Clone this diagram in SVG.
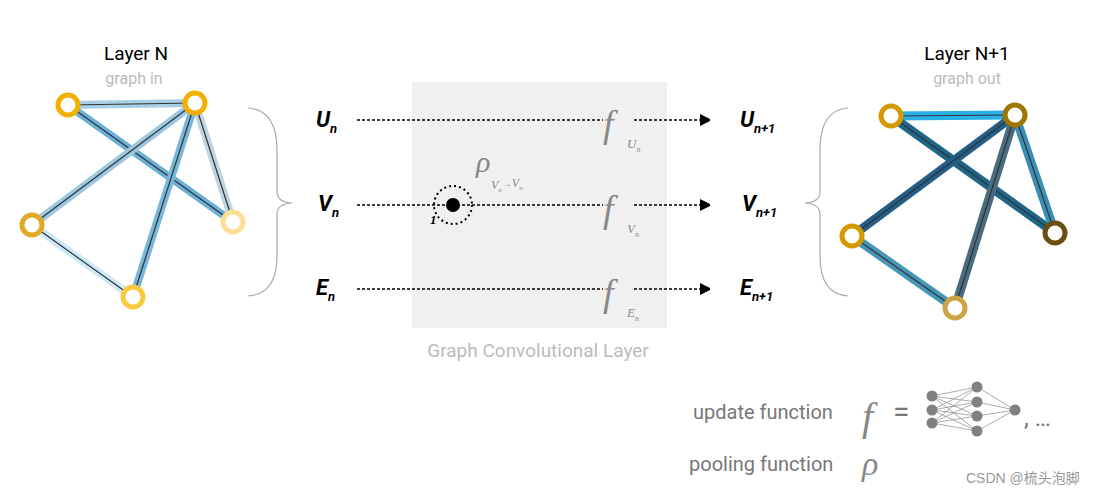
<svg xmlns="http://www.w3.org/2000/svg" width="1116" height="496" viewBox="0 0 1116 496">
<style>
.t{font-family:Roboto,"Liberation Sans",sans-serif}
.lab{font-family:Roboto,"Liberation Sans",sans-serif;font-weight:bold;font-style:italic;font-size:22px;fill:#000}
.sub{font-size:13px}
.m{font-family:"Liberation Serif",serif;font-style:italic;fill:#888}
.dot{stroke:#000;stroke-width:1.3;stroke-dasharray:3 2;fill:none}
.thin{stroke:#333;stroke-width:1.2}
.nd{fill:#fff;stroke-width:5}
.nn{stroke:#888;stroke-width:0.7}
</style>
<defs>
<marker id="ar" markerWidth="10" markerHeight="12" refX="0" refY="6" orient="auto" markerUnits="userSpaceOnUse"><path d="M0,0L12,6L0,12z" fill="#000"/></marker>
</defs>
<rect x="412" y="82" width="255" height="246" fill="#f0f0f0"/>
<g id="connectors">
<g id="left-edges" stroke-linecap="butt">
<line x1="68" y1="105" x2="195" y2="103" stroke="#a9cfe6" stroke-width="8"/><line x1="68" y1="105" x2="195" y2="103" class="thin"/>
<line x1="68" y1="105" x2="233" y2="222" stroke="#6aafd8" stroke-width="8"/><line x1="68" y1="105" x2="233" y2="222" class="thin"/>
<line x1="195" y1="103" x2="32" y2="225" stroke="#9cc7e2" stroke-width="8"/><line x1="195" y1="103" x2="32" y2="225" class="thin"/>
<line x1="195" y1="103" x2="233" y2="222" stroke="#bed4e0" stroke-width="8"/><line x1="195" y1="103" x2="233" y2="222" class="thin"/>
<line x1="195" y1="103" x2="133" y2="297" stroke="#78b6dc" stroke-width="8"/><line x1="195" y1="103" x2="133" y2="297" class="thin"/>
<line x1="32" y1="225" x2="133" y2="297" stroke="#cde8f6" stroke-width="8"/><line x1="32" y1="225" x2="133" y2="297" class="thin"/>
</g>
<g id="right-edges">
<line x1="891" y1="116" x2="1015" y2="115" stroke="#29afe6" stroke-width="9"/><line x1="891" y1="116" x2="1015" y2="115" class="thin"/>
<line x1="891" y1="116" x2="1055" y2="233" stroke="#1d6688" stroke-width="9"/><line x1="891" y1="116" x2="1055" y2="233" class="thin"/>
<line x1="1015" y1="115" x2="852" y2="236" stroke="#235d88" stroke-width="9"/><line x1="1015" y1="115" x2="852" y2="236" class="thin"/>
<line x1="1015" y1="115" x2="1055" y2="233" stroke="#3a8fb4" stroke-width="9"/><line x1="1015" y1="115" x2="1055" y2="233" class="thin"/>
<line x1="1015" y1="115" x2="955" y2="308" stroke="#4a6c80" stroke-width="9"/><line x1="1015" y1="115" x2="955" y2="308" class="thin"/>
<line x1="852" y1="236" x2="955" y2="308" stroke="#4596b8" stroke-width="9"/><line x1="852" y1="236" x2="955" y2="308" class="thin"/>
</g>
<line x1="357" y1="120" x2="603" y2="120" class="dot"/><line x1="634" y1="120" x2="700" y2="120" class="dot" marker-end="url(#ar)"/>
<line x1="357" y1="205" x2="603" y2="205" class="dot"/><line x1="634" y1="205" x2="700" y2="205" class="dot" marker-end="url(#ar)"/>
<line x1="357" y1="289" x2="603" y2="289" class="dot"/><line x1="634" y1="289" x2="700" y2="289" class="dot" marker-end="url(#ar)"/>
<path d="M248,108 Q277,110 277,150 L277,192 Q277,202 292,203 Q277,204 277,214 L277,256 Q277,294 248,296" fill="none" stroke="#aaa" stroke-width="1.2"/>
<path d="M848,108 Q820,110 820,150 L820,192 Q820,202 805,203 Q820,204 820,214 L820,256 Q820,294 848,296" fill="none" stroke="#aaa" stroke-width="1.2"/>
</g>
<g id="left-nodes">
<circle id="nA" cx="68" cy="105" r="10" class="nd" stroke="#f2b100"/>
<circle id="nB" cx="195" cy="103" r="10" class="nd" stroke="#f2b100"/>
<circle id="nC" cx="32" cy="225" r="10" class="nd" stroke="#e2a927"/>
<circle id="nD" cx="233" cy="222" r="10" class="nd" stroke="#fddf94"/>
<circle id="nE" cx="133" cy="297" r="10" class="nd" stroke="#fbc93e"/>
</g>
<g id="right-nodes">
<circle id="na" cx="891" cy="116" r="10" class="nd" stroke="#d59a00"/>
<circle id="nb" cx="1015" cy="115" r="10" class="nd" stroke="#9e7600"/>
<circle id="nc" cx="852" cy="236" r="10" class="nd" stroke="#d59a00"/>
<circle id="nd" cx="1055" cy="233" r="10" class="nd" stroke="#6a4f10"/>
<circle id="ne" cx="955" cy="308" r="10" class="nd" stroke="#cda445"/>
</g>
<g id="titles">
<text x="136" y="60" class="t" font-size="19" text-anchor="middle" fill="#000">Layer N</text>
<text x="134" y="84" class="t" font-size="16" text-anchor="middle" fill="#bbb">graph in</text>
<text x="967" y="60" class="t" font-size="19" text-anchor="middle" fill="#000">Layer N+1</text>
<text x="967" y="84" class="t" font-size="16" text-anchor="middle" fill="#bbb">graph out</text>
<text x="538" y="357" class="t" font-size="19" text-anchor="middle" fill="#bbb">Graph Convolutional Layer</text>
</g>
<g id="labels">
<text x="316" y="127" class="lab">U<tspan class="sub" dy="6">n</tspan></text>
<text x="318" y="211" class="lab">V<tspan class="sub" dy="6">n</tspan></text>
<text x="316" y="295" class="lab">E<tspan class="sub" dy="6">n</tspan></text>
<text x="740" y="127" class="lab">U<tspan class="sub" dy="6">n+1</tspan></text>
<text x="742" y="211" class="lab">V<tspan class="sub" dy="6">n+1</tspan></text>
<text x="740" y="295" class="lab">E<tspan class="sub" dy="6">n+1</tspan></text>
</g>
<g id="functions">
<text x="603" y="137" class="m" font-size="38">f</text><text x="627" y="148" class="m" font-size="13">U<tspan font-size="8" dy="4">n</tspan></text>
<text x="603" y="222" class="m" font-size="38">f</text><text x="627" y="233" class="m" font-size="13">V<tspan font-size="8" dy="4">n</tspan></text>
<text x="603" y="306" class="m" font-size="38">f</text><text x="627" y="317" class="m" font-size="13">E<tspan font-size="8" dy="4">n</tspan></text>
</g>
<g id="pool">
<circle cx="453" cy="205" r="19" fill="none" stroke="#000" stroke-width="2" stroke-dasharray="2 3"/>
<circle cx="453" cy="205" r="7" fill="#000"/>
<text x="430" y="224" font-family="Liberation Serif,serif" font-style="italic" font-weight="bold" font-size="13">1</text>
<text x="476" y="172" class="m" font-size="30">ρ</text>
<text x="491" y="189" class="m" font-size="12">V<tspan font-size="7" dy="3">n</tspan><tspan dy="-5" font-size="10">→</tspan>V<tspan font-size="7" dy="3">n</tspan></text>
</g>
<g id="legend">
<text x="693" y="419" class="t" font-size="20" fill="#777">update function</text>
<text x="862" y="430" class="m" font-size="40">f</text>
<text x="893" y="422" class="t" font-size="30" fill="#777">=</text>
<g class="nn">
<path d="M932,396L977,387M932,396L977,402M932,396L977,416M932,396L977,431M932,410L977,387M932,410L977,402M932,410L977,416M932,410L977,431M932,423L977,387M932,423L977,402M932,423L977,416M932,423L977,431M977,387L1015,410M977,402L1015,410M977,416L1015,410M977,431L1015,410"/>
</g>
<g fill="#808080">
<circle cx="932" cy="396" r="5.5"/><circle cx="932" cy="410" r="5.5"/><circle cx="932" cy="423" r="5.5"/>
<circle cx="977" cy="387" r="5.5"/><circle cx="977" cy="402" r="5.5"/><circle cx="977" cy="416" r="5.5"/><circle cx="977" cy="431" r="5.5"/>
<circle cx="1015" cy="410" r="5.5"/>
</g>
<text x="1024" y="426" class="t" font-size="24" fill="#777">, …</text>
<text x="689" y="471" class="t" font-size="20" fill="#777">pooling function</text>
<text x="862" y="475" class="m" font-size="34">ρ</text>
<text x="966" y="483" font-family="'Liberation Sans','Noto Sans CJK SC',sans-serif" font-size="14" fill="#999">CSDN @梳头泡脚</text>
</g>
</svg>
